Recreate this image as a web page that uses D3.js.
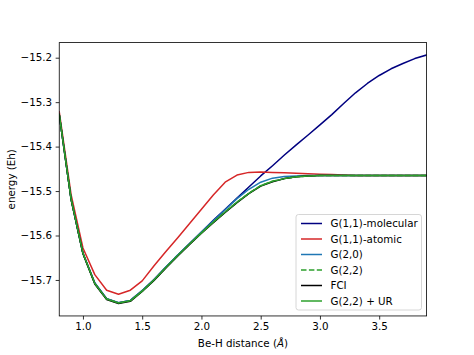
<!DOCTYPE html>
<html><head><meta charset="utf-8">
<script src="https://cdn.jsdelivr.net/npm/d3@7"></script>
<style>
body{margin:0;background:#fff;}
text{font-family:"DejaVu Sans",sans-serif;}
</style></head>
<body><svg id="c" width="474" height="355"></svg>
<script>
const distances = [0.8,0.9,1.0,1.1,1.2,1.3,1.4,1.5,1.6,1.7,1.8,1.9,2.0,2.1,2.2,2.3,2.4,2.5,2.6,2.7,2.8,2.9,3.0,3.1,3.2,3.3,3.4,3.5,3.6,3.7,3.8,3.9];
const g11Molecular = [-15.328,-15.518,-15.640,-15.707,-15.742,-15.751,-15.746,-15.724,-15.699,-15.671,-15.644,-15.618,-15.592,-15.566,-15.541,-15.516,-15.491,-15.466,-15.443,-15.419,-15.396,-15.374,-15.351,-15.328,-15.303,-15.279,-15.258,-15.240,-15.225,-15.213,-15.202,-15.194];
const g11Atomic = [-15.322,-15.508,-15.628,-15.688,-15.723,-15.732,-15.723,-15.702,-15.668,-15.636,-15.605,-15.573,-15.541,-15.509,-15.480,-15.464,-15.458,-15.457,-15.458,-15.459,-15.460,-15.461,-15.462,-15.463,-15.464,-15.465,-15.465,-15.465,-15.465,-15.465,-15.465,-15.465];
const g20 = [-15.328,-15.518,-15.640,-15.707,-15.742,-15.751,-15.746,-15.724,-15.699,-15.671,-15.644,-15.618,-15.592,-15.567,-15.542,-15.517,-15.496,-15.480,-15.471,-15.467,-15.466,-15.465,-15.465,-15.465,-15.465,-15.465,-15.465,-15.465,-15.465,-15.465,-15.465,-15.465];
const g22 = [-15.328,-15.518,-15.640,-15.708,-15.743,-15.752,-15.747,-15.725,-15.700,-15.672,-15.645,-15.619,-15.594,-15.570,-15.547,-15.525,-15.505,-15.488,-15.478,-15.472,-15.468,-15.466,-15.465,-15.465,-15.465,-15.465,-15.465,-15.465,-15.465,-15.465,-15.465,-15.465];
const fci = [-15.328,-15.519,-15.641,-15.709,-15.744,-15.753,-15.748,-15.726,-15.701,-15.673,-15.646,-15.620,-15.595,-15.571,-15.548,-15.526,-15.506,-15.489,-15.479,-15.472,-15.468,-15.466,-15.465,-15.465,-15.465,-15.465,-15.465,-15.465,-15.465,-15.465,-15.465,-15.465];
const g22UR = [-15.328,-15.518,-15.640,-15.708,-15.743,-15.752,-15.747,-15.725,-15.700,-15.672,-15.645,-15.619,-15.594,-15.570,-15.547,-15.525,-15.505,-15.488,-15.478,-15.472,-15.468,-15.466,-15.465,-15.465,-15.465,-15.465,-15.465,-15.465,-15.465,-15.465,-15.465,-15.465];
const xTicks = [1.0,1.5,2.0,2.5,3.0,3.5];
const yTicks = [-15.7,-15.6,-15.5,-15.4,-15.3,-15.2];

const series = [
  {name:"G(1,1)-molecular", values:g11Molecular, color:"#000080", dash:null},
  {name:"G(1,1)-atomic", values:g11Atomic, color:"#d62728", dash:null},
  {name:"G(2,0)", values:g20, color:"#1f77b4", dash:null},
  {name:"G(2,2)", values:g22, color:"#2ca02c", dash:"5.5,2.4"},
  {name:"FCI", values:fci, color:"#000000", dash:null},
  {name:"G(2,2) + UR", values:g22UR, color:"#2ca02c", dash:null}
];

const svg = d3.select("#c");
const L=59.25, R=426.6, T=42.6, B=315.95;
const allY = series.flatMap(s=>s.values);
const ymin = d3.min(allY), ymax = d3.max(allY), pad=(ymax-ymin)*0.05;
const x = d3.scaleLinear().domain([0.8,3.9]).range([L,R]);
const y = d3.scaleLinear().domain([ymin-pad, ymax+pad]).range([B,T]);

const g = svg.append("g");
g.append("defs").append("clipPath").attr("id","clip").append("rect")
  .attr("x",L).attr("y",T).attr("width",R-L).attr("height",B-T);

const line = d3.line().x((d,i)=>x(distances[i])).y(d=>y(d));
const lines = g.append("g").attr("clip-path","url(#clip)");
series.forEach(s=>{
  lines.append("path").attr("d",line(s.values)).attr("fill","none")
    .attr("stroke",s.color).attr("stroke-width",1.5)
    .attr("stroke-dasharray",s.dash).attr("stroke-linejoin","round").attr("stroke-linecap",s.dash?"butt":"square");
});

const fs = "10.3px";
const xAxis = g.append("g").attr("transform",`translate(0,${B})`)
  .call(d3.axisBottom(x).tickValues(xTicks).tickFormat(d3.format(".1f")).tickSizeOuter(0).tickSize(3.6).tickPadding(3.6));
const yAxis = g.append("g").attr("transform",`translate(${L},0)`)
  .call(d3.axisLeft(y).tickValues(yTicks).tickFormat(d=>"\u2212"+Math.abs(d).toFixed(1)).tickSizeOuter(0).tickSize(3.6).tickPadding(3.6));
[xAxis,yAxis].forEach(a=>{
  a.select(".domain").remove();
  a.selectAll("line").attr("stroke","#000").attr("stroke-width",0.8);
  a.selectAll("text").attr("font-size",fs).attr("fill","#000").attr("font-family","DejaVu Sans");
});

g.append("rect").attr("x",L).attr("y",T).attr("width",R-L).attr("height",B-T)
  .attr("fill","none").attr("stroke","#000").attr("stroke-width",0.8);

const xl = g.append("text").attr("x",(L+R)/2).attr("y",347).attr("text-anchor","middle").attr("font-size",fs);
xl.append("tspan").text("Be-H distance (");
xl.append("tspan").attr("font-style","italic").text("\u00C5");
xl.append("tspan").text(")");
g.append("text").attr("transform",`translate(14.5,${(T+B)/2}) rotate(-90)`).attr("text-anchor","middle")
  .attr("font-size",fs).text("energy (Eh)");

// legend
const lg = g.append("g");
const lx=296, ly=214.5, lw=125.5, rowH=15.5;
lg.append("rect").attr("x",lx).attr("y",ly).attr("width",lw).attr("height",95.5).attr("rx",2.5)
  .attr("fill","#fff").attr("fill-opacity",0.8).attr("stroke","#cccccc").attr("stroke-width",0.8);
series.forEach((s,i)=>{
  const cy = ly+9+i*rowH;
  lg.append("line").attr("x1",lx+5).attr("x2",lx+26).attr("y1",cy).attr("y2",cy)
    .attr("stroke",s.color).attr("stroke-width",1.5).attr("stroke-dasharray",s.dash);
  lg.append("text").attr("x",lx+34.5).attr("y",cy+3.7).attr("font-size",fs).text(s.name);
});
</script></body></html>
